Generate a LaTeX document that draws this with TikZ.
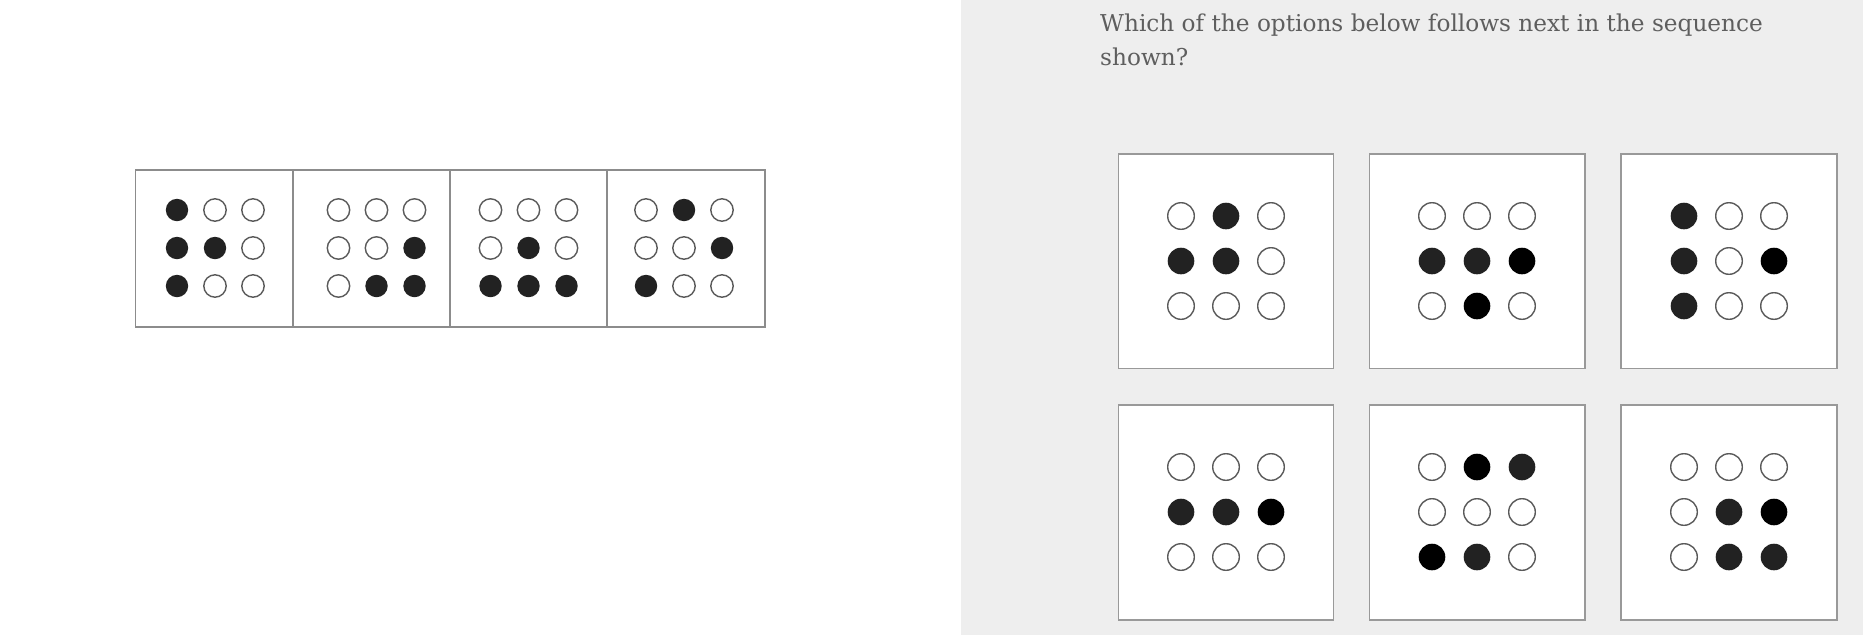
\documentclass[tikz,border=0pt]{standalone}
\usepackage{fontspec}
\newfontfamily\qfont{DejaVu Serif}
\definecolor{panelgray}{HTML}{EEEEEE}
\definecolor{textgray}{HTML}{5E5E5E}
\definecolor{boxline}{HTML}{999999}
\definecolor{seqline}{HTML}{8C8C8C}
\definecolor{ringgray}{HTML}{5A5A5A}
\definecolor{dotdark}{HTML}{222222}
\newcommand\dotgrid[5]{% cx, cy, spacing, radius, 9 values
  \foreach \v [count=\i from 0] in {#5} {
    \pgfmathtruncatemacro\cc{mod(\i,3)}
    \pgfmathtruncatemacro\rr{int(\i/3)}
    \ifcase\v
      \draw[ring] ({#1+(\cc-1)*#3},{#2+(\rr-1)*#3}) circle (#4pt);
    \or
      \fill[dotdark] ({#1+(\cc-1)*#3},{#2+(\rr-1)*#3}) circle (#4pt);
    \else
      \fill[black] ({#1+(\cc-1)*#3},{#2+(\rr-1)*#3}) circle (#4pt);
    \fi
  }
}
\begin{document}
\begin{tikzpicture}[x=1pt,y=-1pt,
  ring/.style={draw=ringgray,line width=1.4pt,fill=white},
  seqbox/.style={draw=seqline,line width=1.2pt,fill=white},
  optbox/.style={draw=boxline,line width=1.6pt,fill=white},
  qtext/.style={anchor=base west,inner sep=0pt,text=textgray,font=\qfont\fontsize{23.2}{30}\selectfont}]
\useasboundingbox (0,0) rectangle (1863,635);
\fill[white] (0,0) rectangle (1863,635);
\fill[panelgray] (961,0) rectangle (1863,635);

% sequence
\draw[seqbox] (135.5,170) rectangle (293,327);
\draw[seqbox] (293,170) rectangle (450,327);
\draw[seqbox] (450,170) rectangle (607,327);
\draw[seqbox] (607,170) rectangle (765,327);
\dotgrid{215}{248}{38}{11.2}{1,0,0, 1,1,0, 1,0,0}
\dotgrid{376.5}{248}{38}{11.2}{0,0,0, 0,0,1, 0,1,1}
\dotgrid{528.5}{248}{38}{11.2}{0,0,0, 0,1,0, 1,1,1}
\dotgrid{684}{248}{38}{11.2}{0,1,0, 0,0,1, 1,0,0}

% question
\node[qtext] (q1) at (1100,31.5) {Which of the options below follows next in the sequence};
\node[qtext] (q2) at (1100,65.5) {shown?};

% options
\draw[optbox] (1118.5,154) rectangle (1333.5,368.5);
\draw[optbox] (1369.5,154) rectangle (1585,368.5);
\draw[optbox] (1621,154) rectangle (1837,368.5);
\draw[optbox] (1118.5,405) rectangle (1333.5,620);
\draw[optbox] (1369.5,405) rectangle (1585,620);
\draw[optbox] (1621,405) rectangle (1837,620);
\dotgrid{1226}{261}{45}{13.3}{0,1,0, 1,1,0, 0,0,0}
\dotgrid{1477}{261}{45}{13.3}{0,0,0, 1,1,2, 0,2,0}
\dotgrid{1729}{261}{45}{13.3}{1,0,0, 1,0,2, 1,0,0}
\dotgrid{1226}{512}{45}{13.3}{0,0,0, 1,1,2, 0,0,0}
\dotgrid{1477}{512}{45}{13.3}{0,2,1, 0,0,0, 2,1,0}
\dotgrid{1729}{512}{45}{13.3}{0,0,0, 0,1,2, 0,1,1}
\end{tikzpicture}
\end{document}
